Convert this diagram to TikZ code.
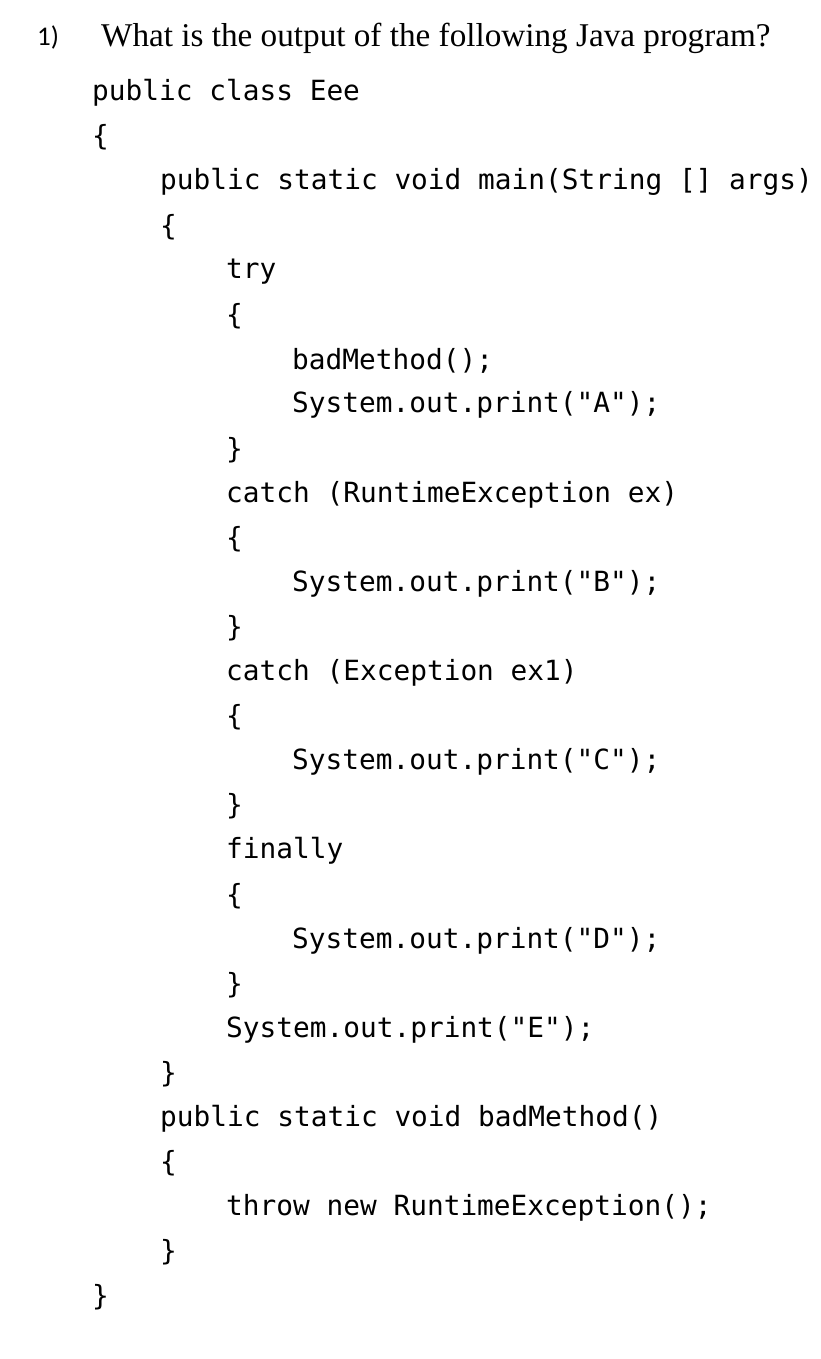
\documentclass[tikz,border=0pt]{standalone}
\usepackage{fontspec}
\setmainfont{Liberation Serif}
\newfontfamily\codefont{DejaVu Sans Mono}
\newfontfamily\numfont{Carlito}
\begin{document}
\begin{tikzpicture}[x=1pt,y=-1pt,
  code/.style={anchor=west,inner sep=0pt,font=\codefont\fontsize{27.8}{30}\selectfont},
  ttl/.style={anchor=west,inner sep=0pt,font=\fontsize{33.2}{36}\selectfont}]
\useasboundingbox[fill=white] (0,0) rectangle (820,1359);
\node[anchor=west,inner sep=0pt,font=\numfont\fontsize{27}{30}\selectfont] (num) at (37,38) {1)};
\node[ttl] (title) at (101,38) {What is the output of the following Java program?};
\def\L{92}\def\M{160}\def\N{226}\def\P{292}
\def\dy{44.6}
\foreach \x/\t [count=\i from 0] in {
 \L/{public class Eee},
 \L/{\{},
 \M/{public static void main(String [] args)},
 \M/{\{},
 \N/{try},
 \N/{\{},
 \P/{badMethod();},
 \P/{System.out.print("A");},
 \N/{\}},
 \N/{catch (RuntimeException ex)},
 \N/{\{},
 \P/{System.out.print("B");},
 \N/{\}},
 \N/{catch (Exception ex1)},
 \N/{\{},
 \P/{System.out.print("C");},
 \N/{\}},
 \N/{finally},
 \N/{\{},
 \P/{System.out.print("D");},
 \N/{\}},
 \N/{System.out.print("E");},
 \M/{\}},
 \M/{public static void badMethod()},
 \M/{\{},
 \N/{throw new RuntimeException();},
 \M/{\}},
 \L/{\}}}
 \node[code] (line\i) at (\x,{93+\i*\dy}) {\t};
\end{tikzpicture}
\end{document}
